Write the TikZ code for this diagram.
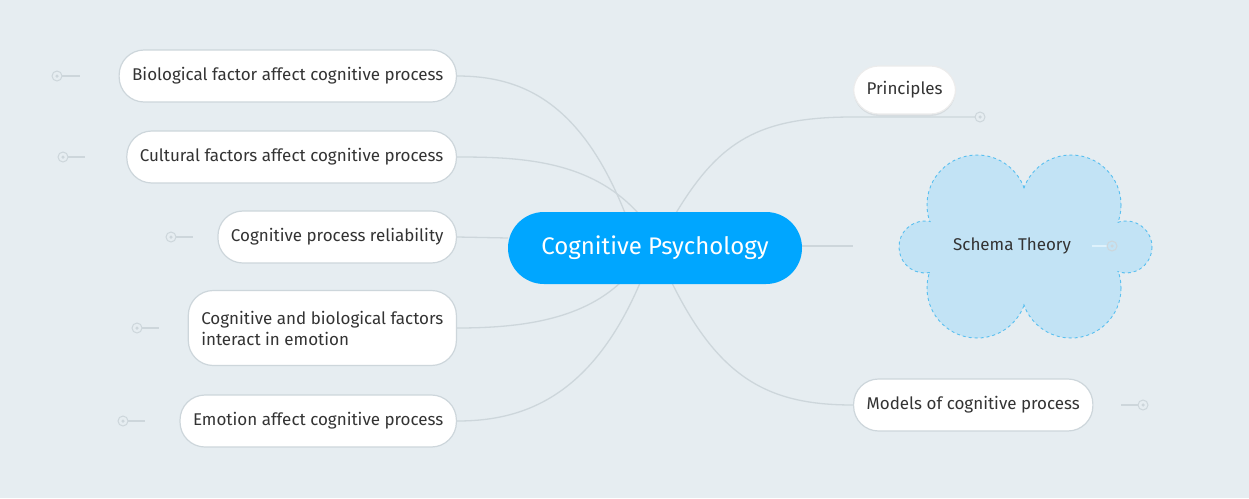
\documentclass[tikz,border=0pt]{standalone}
\usepackage{fontspec}
\usetikzlibrary{shadows}
\setmainfont{Fira Sans}
\definecolor{bg}{HTML}{E6EDF1}
\definecolor{conn}{HTML}{CDD6DB}
\definecolor{topic}{HTML}{00A6FF}
\definecolor{cloudf}{HTML}{C2E3F5}
\definecolor{cloudd}{HTML}{5BC0F0}
\definecolor{txt}{HTML}{333333}
\begin{document}
\begin{tikzpicture}[x=1pt,y=-1pt,
  sub/.style={draw=conn,line width=1.2pt,fill=white,rounded corners=25pt,minimum height=52pt,inner xsep=13pt,font=\fontsize{17}{21}\selectfont,text=txt},
  conline/.style={draw=conn,line width=1.3pt},
  knob/.style={circle,draw=conn,fill=bg,line width=1pt,minimum size=10pt,inner sep=0pt},
  knobdot/.style={circle,fill=conn,minimum size=3.5pt,inner sep=0pt}]
\fill[bg] (0,0) rectangle (1249,498);
\useasboundingbox (0,0) rectangle (1249,498);
% connectors
\coordinate (c1) at (625,213);
\coordinate (c2) at (638,213);
\coordinate (c4) at (620,283);
\coordinate (c5) at (640,283);
\coordinate (cp) at (676,213);
\coordinate (cm) at (672,283);
\coordinate (pe) at (980,117);
\draw[conline] (c1) .. controls (580,100) and (520,76) .. (457,76);
\draw[conline] (c2) .. controls (590,160) and (520,157) .. (457,157);
\draw[conline] (508,238) -- (457,237);
\draw[conline] (c4) .. controls (580,320) and (520,328) .. (457,328);
\draw[conline] (c5) .. controls (590,400) and (520,421) .. (457,421);
\draw[conline] (cp) .. controls (720,140) and (760,117) .. (853,117) -- (pe);
\draw[conline] (cm) .. controls (720,380) and (770,405) .. (853,405);
\draw[conline] (802,246) -- (853,246);
% knobs
\foreach \n/\x/\y/\ex in {k1/57/76/80,k2/63/157/85,k3/171/237/193,k4/137/328/159,k5/123/421/145}{
  \draw[conline] (\x,\y) -- (\ex,\y);
  \node[knob] (\n) at (\x,\y) {};
  \node[knobdot] at (\x,\y) {};
}
\node[knob] (kp) at (pe) {}; \node[knobdot] at (pe) {};
\draw[conline] (1121,405) -- (1143,405);
\node[knob] (km) at (1143,405) {}; \node[knobdot] at (1143,405) {};
% left nodes
\node[sub,anchor=east] (n1) at (457,76) {Biological factor affect cognitive process};
\node[sub,anchor=east] (n2) at (457,157) {Cultural factors affect cognitive process};
\node[sub,anchor=east] (n3) at (457,237) {Cognitive process reliability};
\node[sub,anchor=east,minimum height=75pt,align=left] (n4) at (457,328) {Cognitive and biological factors\\interact in emotion};
\node[sub,anchor=east] (n5) at (457,421) {Emotion affect cognitive process};
% right nodes
\node[sub,anchor=west,minimum height=48pt,draw=white!85!gray,drop shadow={opacity=0.15,shadow xshift=0pt,shadow yshift=-2pt}] (np) at (853,90) {Principles};
\node[sub,anchor=west] (nm) at (853,405) {Models of cognitive process};
% cloud
\begin{scope}
\foreach \cx/\cy/\r in {977/205/50,1071/205/50,977/288/50,1071/288/50,925/247/26,1126/247/26}
  \draw[cloudd,dashed,line width=1pt,fill=cloudf] (\cx,\cy) circle (\r);
\foreach \cx/\cy/\r in {977/205/50,1071/205/50,977/288/50,1071/288/50,925/247/26,1126/247/26}
  \fill[cloudf] (\cx,\cy) circle (\r-0.8);
\fill[cloudf] (940,200) rectangle (1110,295);
\end{scope}
\node[font=\fontsize{17}{21}\selectfont,text=txt] (ns) at (1012,246) {Schema Theory};
\draw[draw=white!80!cloudd,line width=1.2pt] (1092,246) -- (1112,246);
\node[knob,fill=cloudf] (ks) at (1112,246) {}; \node[knobdot] at (1112,246) {};
% central
\node[fill=topic,rounded corners=36pt,minimum width=294pt,minimum height=72pt,text=white,font=\fontsize{24}{28}\selectfont] (c) at (655,248) {Cognitive Psychology};
\end{tikzpicture}
\end{document}
